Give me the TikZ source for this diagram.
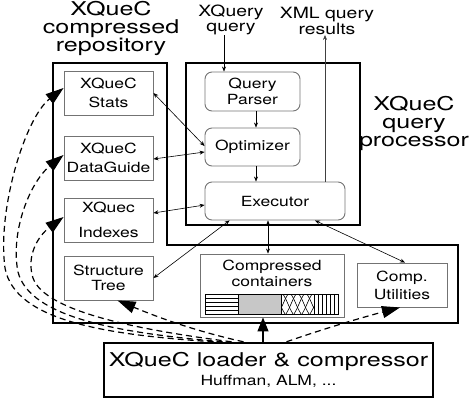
\documentclass[tikz,border=0pt]{standalone}
\usepackage{fontspec}
\setmainfont[FakeStretch=1.25]{TeX Gyre Heros}
\newfontfamily\xqtitlefont[FakeStretch=1.32]{TeX Gyre Heros}
\usetikzlibrary{arrows.meta}
\begin{document}
\begin{tikzpicture}[x=1pt,y=-1pt,
  thickbox/.style={draw, line width=2.4pt},
  gbox/.style={draw=black!55, line width=0.9pt, minimum width=89pt, minimum height=44pt, inner sep=0pt, align=center},
  rbox/.style={draw=black!55, line width=0.9pt, rounded corners=7pt, inner sep=0pt, align=center, font={\fontsize{14}{16}\selectfont}},
  ttl/.style={align=center, inner sep=0pt, font={\xqtitlefont\fontsize{19}{18}\selectfont}},
  lbl/.style={align=center, inner sep=0pt, font={\fontsize{15.5}{15.5}\selectfont}},
  link/.style={line width=0.6pt, {Stealth[length=5pt,width=4pt]}-{Stealth[length=5pt,width=4pt]}},
  one/.style={line width=0.6pt, -{Stealth[length=5pt,width=4pt]}},
  bighead/.style={-{Triangle[length=18pt,width=12pt]}},
  load/.style={line width=1.2pt, dash pattern=on 6pt off 4pt, bighead},
  ]
\useasboundingbox (0,0) rectangle (474,400);

% repository outline
\draw[thickbox] (53,63) -- (167,63) -- (167,245) -- (458,245) -- (458,323) -- (53,323) -- cycle;
% query processor
\node[thickbox, minimum width=174pt, minimum height=162pt, inner sep=0pt] (proc) at (273,144) {};

% titles
\node[ttl] (reptitle) at (111,28) {XQueC\\compressed\\repository};
\node[ttl] (proctitle) at (414,123) {XQueC\\query\\processor};
\node[lbl] (xq) at (231,20) {XQuery\\query};
\node[lbl, font={\fontsize{15.5}{16}\selectfont}] (res) at (327,21) {XML query\\results};

% repository boxes
\node[gbox, font={\fontsize{14}{19}\selectfont}] (stats) at (108.5,93) {XQueC\\Stats};
\node[gbox, font={\fontsize{14}{19}\selectfont}] (dg) at (108.5,158) {XQueC\\DataGuide};
\node[gbox, font={\fontsize{14}{25}\selectfont}] (idx) at (108.5,220) {XQuec\\Indexes};
\node[gbox, font={\fontsize{14}{15}\selectfont}] (tree) at (108.5,278) {Structure\\Tree};

% processor boxes
\node[rbox, minimum width=95pt, minimum height=39pt] (parser) at (252.5,91.5) {Query\\Parser};
\node[rbox, minimum width=95pt, minimum height=38pt] (opt) at (252.5,147) {Optimizer};
\node[rbox, minimum width=140pt, minimum height=38pt] (exec) at (275,201) {Executor};

% compressed containers
\node[gbox, minimum width=144pt, minimum height=63pt] (cont) at (272,285.5) {};
\node[align=center, inner sep=0pt, font={\fontsize{14}{16}\selectfont}] (conttext) at (272,273) {Compressed\\containers};
\node[gbox, minimum width=90pt, minimum height=44pt, font={\fontsize{14}{18}\selectfont}] (util) at (402,285) {Comp.\\Utilities};

% pattern bar
\begin{scope}[line width=0.6pt]
  \fill[black!22] (238,294) rectangle (281,314);
  \foreach \yy in {298,302,306,310} \draw (205,\yy) -- (238,\yy);
  \foreach \xx in {318,322,326,330,334} \draw (\xx,294) -- (\xx,314);
  \begin{scope}
    \clip (281,294) rectangle (314,314);
    \foreach \k in {-30,-22,...,40} {
      \draw (281+\k,294) .. controls (285+\k,300) and (287+\k,308) .. (291+\k,314);
      \draw (314-\k,294) .. controls (310-\k,300) and (308-\k,308) .. (304-\k,314);
    }
  \end{scope}
  \draw (205,294) rectangle (338,314);
  \draw (238,294) -- (238,314);
  \draw (281,294) -- (281,314);
  \draw (314,294) -- (314,314);
\end{scope}

% loader
\node[thickbox, minimum width=329pt, minimum height=54pt, inner sep=0pt, align=center] (loader) at (268.5,370)
  {{\xqtitlefont\fontsize{19}{20}\selectfont XQueC loader \& compressor}\\[3pt]{\fontsize{14}{16}\selectfont Huffman, ALM, ...}};

% solid connectors
\draw[one] ([xshift=-28.5pt]parser.north |- xq.south) -- ([xshift=-28.5pt]parser.north);
\draw[one, draw=black!75] ([xshift=50pt]exec.north) -- ([xshift=50pt]exec.north |- res.south);
\draw[one] ([xshift=3.5pt]parser.south) -- ([xshift=3.5pt]opt.north);
\draw[one] ([xshift=3.5pt]opt.south) -- ([xshift=3.5pt]opt.south |- exec.north);
\draw[link] (stats.east) -- ([yshift=1pt]opt.west);
\draw[link] ([yshift=-1pt]dg.east) -- ([yshift=-5pt]opt.west);
\draw[link] ([yshift=7pt]idx.east) -- ([yshift=-4pt]exec.west);
\draw[link] ([xshift=25pt]exec.south west) -- (tree.east);
\draw[link] ([xshift=-7pt]exec.south) -- ([xshift=-4pt]cont.north);
\draw[link] ([xshift=40pt]exec.south) -- ([xshift=3pt]util.north);

% loader connectors
\coordinate (l1) at ([xshift=-55pt]loader.north);
\coordinate (l2) at ([xshift=-46pt]loader.north);
\coordinate (l3) at ([xshift=-37pt]loader.north);
\coordinate (l4) at ([xshift=-25pt]loader.north);
\coordinate (l5) at ([xshift=18pt]loader.north);
\draw[load] (l1) .. controls (110,335) and (15,322) .. (5,268) .. controls (-3,210) and (25,118) .. ([yshift=5pt]stats.west);
\draw[load] (l2) .. controls (120,333) and (30,318) .. (18,272) .. controls (10,232) and (30,182) .. ([yshift=3pt]dg.west);
\draw[load] (l3) .. controls (140,330) and (45,312) .. (33,278) .. controls (26,256) and (38,236) .. ([yshift=3pt]idx.west);
\draw[load] (l4) .. controls (190,330) and (150,314) .. ([xshift=9pt]tree.south);
\draw[load] (l5) .. controls (320,330) and (360,318) .. ([xshift=-2pt]util.south);
\draw[line width=1.2pt, -{Triangle[length=14pt,width=11pt]}] ([xshift=-9pt]cont.south |- loader.north) -- ([xshift=-9pt]cont.south);
\end{tikzpicture}
\end{document}
